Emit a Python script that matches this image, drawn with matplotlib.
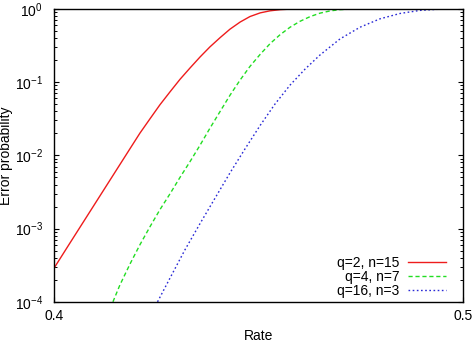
import numpy as np
import matplotlib.pyplot as plt

plt.rcParams['font.family'] = ['Liberation Sans', 'DejaVu Sans']
plt.rcParams['mathtext.default'] = 'regular'

# curves: rate and log10 of the error probability
rate_q2 = [0.4000, 0.4039, 0.4088, 0.4137, 0.4186, 0.4210, 0.4235, 0.4259,
           0.4284, 0.4308, 0.4333, 0.4357, 0.4381, 0.4406, 0.4430, 0.4455,
           0.4479, 0.4504, 0.4528, 0.4553, 0.4577, 0.4601, 0.5000]
logerr_q2 = [-3.54, -3.196, -2.766, -2.336, -1.906, -1.696, -1.497, -1.308,
             -1.129, -0.961, -0.803, -0.656, -0.519, -0.392, -0.277, -0.179,
             -0.104, -0.054, -0.026, -0.010, -0.003, 0.0, 0.0]

rate_q4 = [0.4144, 0.4161, 0.4186, 0.4210, 0.4235, 0.4259, 0.4284, 0.4308,
           0.4333, 0.4357, 0.4381, 0.4406, 0.4430, 0.4455, 0.4479, 0.4504,
           0.4528, 0.4553, 0.4577, 0.4601, 0.4626, 0.4650, 0.4675, 0.4699,
           0.4724, 0.4748, 0.5000]
logerr_q4 = [-4.0, -3.77, -3.48, -3.22, -2.97, -2.74, -2.52, -2.30,
             -2.08, -1.86, -1.63, -1.40, -1.18, -0.97, -0.785, -0.62,
             -0.475, -0.35, -0.25, -0.17, -0.105, -0.058, -0.027, -0.01,
             -0.003, 0.0, 0.0]

rate_q16 = [0.4253, 0.4284, 0.4320, 0.4357, 0.4394, 0.4430, 0.4467, 0.4504,
            0.4540, 0.4577, 0.4614, 0.4650, 0.4699, 0.4748, 0.4797, 0.4846,
            0.4895, 0.4944, 0.4968, 0.5000]
logerr_q16 = [-4.0, -3.67, -3.29, -2.93, -2.58, -2.24, -1.91, -1.59,
              -1.30, -1.04, -0.82, -0.63, -0.41, -0.25, -0.135, -0.062,
              -0.02, -0.003, 0.0, 0.0]

fig = plt.figure(figsize=(4.74, 3.43), dpi=100)
ax = fig.add_axes([0.114, 0.12, 0.863, 0.854])

ax.plot(rate_q2, np.power(10.0, logerr_q2), color='#ee1c1c', lw=1.0,
        label='q=2, n=15')
ax.plot(rate_q4, np.power(10.0, logerr_q4), color='#22dd22', lw=1.0,
        dashes=(3, 2), label='q=4, n=7')
ax.plot(rate_q16, np.power(10.0, logerr_q16), color='#2a2ad6', lw=1.0,
        dashes=(1.2, 1.8), label='q=16, n=3')

ax.set_yscale('log')
ax.set_xlim(0.4, 0.5)
ax.set_ylim(1e-4, 1)
ax.set_xticks([0.4, 0.5])
ax.set_xticklabels(['0.4', '0.5'])
ax.set_yticks([1e-4, 1e-3, 1e-2, 1e-1, 1])
ax.set_yticklabels(['$10^{-4}$', '$10^{-3}$', '$10^{-2}$', '$10^{-1}$', '$10^{0}$'])

ax.tick_params(which='both', direction='in', top=True, right=True, labelsize=10)
ax.tick_params(which='major', length=3.6, width=0.8)
ax.tick_params(which='minor', length=2.0, width=0.7)
ax.tick_params(axis='x', which='minor', bottom=False, top=False)
ax.tick_params(axis='x', pad=5.5)
ax.tick_params(axis='y', pad=8)
for s in ax.spines.values():
    s.set_linewidth(1.0)

ax.set_xlabel('Rate', fontsize=10)
ax.xaxis.set_label_coords(0.5, -0.093)
ax.set_ylabel('Error probability', fontsize=10)
ax.yaxis.set_label_coords(-0.1, 0.5)

ax.legend(loc='lower right', frameon=False, markerfirst=False, fontsize=10,
          handlelength=2.7, handletextpad=0.65, labelspacing=0.0,
          borderpad=0.0, borderaxespad=0.0, bbox_to_anchor=(0.958, 0.012))

fig.savefig('out.png', dpi=100)
